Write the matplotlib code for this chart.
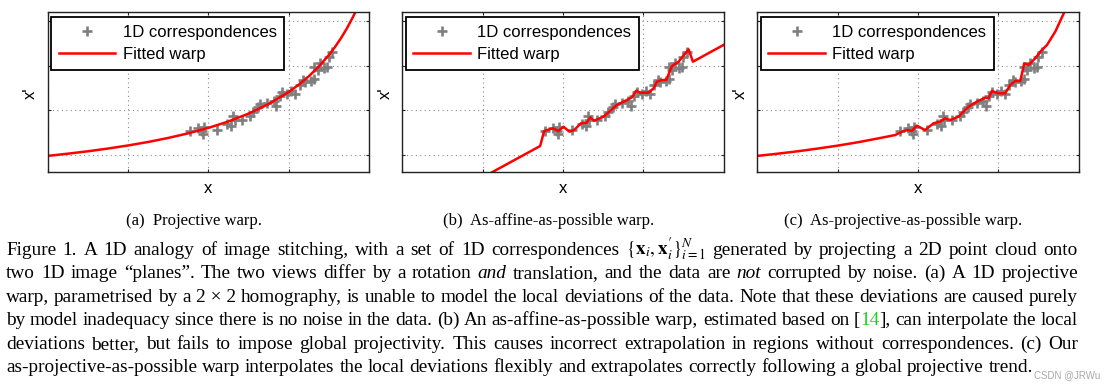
import matplotlib
matplotlib.use('Agg')
import matplotlib.pyplot as plt

# 1D correspondences (same set in all three panels)
pts_x = [1.775, 1.878, 1.920, 1.940, 1.948, 2.107, 2.231, 2.281, 2.306, 2.327, 2.418, 2.522,
         2.555, 2.625, 2.646, 2.730, 2.812, 2.841, 2.887, 2.916, 2.979, 3.029, 3.083, 3.136,
         3.178, 3.207, 3.278, 3.319, 3.319, 3.361, 3.394, 3.444, 3.477, 3.497, 3.539]
pts_y = [1.537, 1.611, 1.537, 1.463, 1.633, 1.559, 1.686, 1.656, 1.880, 1.783, 1.783, 1.880,
         1.955, 2.081, 2.141, 2.156, 2.208, 2.104, 2.327, 2.402, 2.357, 2.432, 2.357, 2.566,
         2.678, 2.626, 2.656, 2.701, 2.976, 2.902, 3.051, 2.954, 2.976, 3.199, 3.311]

# (a) projective warp
warp_a_x = [0, 0.25, 0.5, 0.75, 1.0, 1.25, 1.5, 1.75, 2.0, 2.25, 2.5, 2.75, 3.0, 3.125,
            3.25, 3.375, 3.5, 3.575, 3.65, 3.725, 3.8, 3.85, 3.9]
warp_a_y = [0.98, 1.029, 1.083, 1.144, 1.213, 1.291, 1.381, 1.485, 1.606, 1.750, 1.925,
            2.139, 2.409, 2.572, 2.760, 2.978, 3.235, 3.412, 3.610, 3.833, 4.086, 4.27, 4.48]

# (b) as-affine-as-possible warp
warp_b_x = [1.00, 1.715, 1.765, 1.873, 1.943, 2.005, 2.080, 2.138, 2.222, 2.296, 2.338, 2.387,
            2.503, 2.670, 2.794, 2.857, 2.910, 2.960, 3.064, 3.126, 3.168, 3.230, 3.284, 3.355,
            3.437, 3.562, 3.616, 4.0]
warp_b_y = [0.50, 1.201, 1.537, 1.597, 1.537, 1.634, 1.522, 1.559, 1.709, 1.724, 1.843, 1.768,
            1.857, 2.119, 2.230, 2.290, 2.439, 2.394, 2.394, 2.492, 2.640, 2.678, 2.678, 2.991,
            3.088, 3.364, 3.088, 3.465]

# (c) as-projective-as-possible warp
warp_c_x = [0, 0.25, 0.5, 0.75, 1.0, 1.25, 1.5, 1.715, 1.818, 1.881, 1.922, 1.985, 2.088, 2.192,
            2.275, 2.337, 2.400, 2.503, 2.628, 2.732, 2.836, 2.877, 2.919, 3.001, 3.084, 3.147,
            3.209, 3.272, 3.321, 3.375, 3.458, 3.529, 3.604, 3.707, 3.832, 3.9]
warp_c_y = [0.98, 1.029, 1.083, 1.144, 1.21, 1.285, 1.37, 1.447, 1.537, 1.559, 1.537, 1.656,
            1.559, 1.709, 1.746, 1.821, 1.783, 1.857, 2.081, 2.193, 2.282, 2.267, 2.432, 2.380,
            2.380, 2.566, 2.656, 2.656, 3.051, 3.014, 3.163, 3.327, 3.461, 3.759, 4.244, 4.51]

sub_captions = ['(a)  Projective warp.', '(b)  As-affine-as-possible warp.',
                '(c)  As-projective-as-possible warp.']

IT = {'style': 'italic'}
GREEN = {'color': '#1ed21e'}
caption_lines = [
    ['Figure', '1.', 'A', '1D', 'analogy', 'of', 'image', 'stitching,', 'with', 'a', 'set', 'of',
     '1D', 'correspondences', r'$\{\mathbf{x}_i, \mathbf{x}^{\prime}_i\}_{i=1}^{N}$', 'generated',
     'by', 'projecting', 'a', '2D', 'point', 'cloud', 'onto'],
    ['two', '1D', 'image', '\u201cplanes\u201d.', 'The', 'two', 'views', 'differ', 'by', 'a',
     'rotation', [('and', IT)], 'translation,', 'and', 'the', 'data', 'are', [('not', IT)],
     'corrupted', 'by', 'noise.', '(a)', 'A', '1D', 'projective'],
    ['warp,', 'parametrised', 'by', 'a', '2 \u00d7 2', 'homography,', 'is', 'unable', 'to',
     'model', 'the', 'local', 'deviations', 'of', 'the', 'data.', 'Note', 'that', 'these',
     'deviations', 'are', 'caused', 'purely'],
    ['by', 'model', 'inadequacy', 'since', 'there', 'is', 'no', 'noise', 'in', 'the', 'data.',
     '(b)', 'An', 'as-affine-as-possible', 'warp,', 'estimated', 'based', 'on',
     [('[', {}), ('14', GREEN), ('],', {})], 'can', 'interpolate', 'the', 'local'],
    ['deviations', 'better,', 'but', 'fails', 'to', 'impose', 'global', 'projectivity.', 'This',
     'causes', 'incorrect', 'extrapolation', 'in', 'regions', 'without', 'correspondences.',
     '(c)', 'Our'],
    ['as-projective-as-possible', 'warp', 'interpolates', 'the', 'local', 'deviations',
     'flexibly', 'and', 'extrapolates', 'correctly', 'following', 'a', 'global', 'projective',
     'trend.'],
]

plt.rcParams['font.family'] = 'Liberation Sans'
plt.rcParams['mathtext.fontset'] = 'stix'

W, H = 1109, 388
fig = plt.figure(figsize=(W / 100, H / 100), dpi=100)

panels = [(warp_a_x, warp_a_y), (warp_b_x, warp_b_y), (warp_c_x, warp_c_y)]
lefts = [47.5, 402.3, 757.3]
ax_w, ax_top, ax_bot = 321.5, 11.7, 172.0

for (wx, wy), left, sub in zip(panels, lefts, sub_captions):
    ax = fig.add_axes([left / W, 1 - ax_bot / H, ax_w / W, (ax_bot - ax_top) / H])
    ax.plot(pts_x, pts_y, '+', color='#7f7f7f', ms=6.5, mew=1.9, label='1D correspondences')
    ax.plot(wx, wy, '-', color='red', lw=1.8, label='Fitted warp')
    ax.set_xlim(0, 4)
    ax.set_ylim(0.62, 4.206)
    ax.set_xticks([0, 1, 2, 3, 4])
    ax.set_yticks([1, 2, 3, 4])
    ax.set_xticklabels([])
    ax.set_yticklabels([])
    ax.tick_params(direction='in', length=2.5, width=0.8, top=True, right=True, color='#222222')
    ax.grid(True, color='#8c8c8c', linestyle=(0, (1, 3)), lw=0.8)
    for sp in ax.spines.values():
        sp.set_linewidth(1.0)
        sp.set_color('#222222')
    ax.set_xlabel('x', fontsize=12, va='center')
    ax.xaxis.set_label_coords(0.5, -0.106)
    ax.set_ylabel("x'", fontsize=12, va='center')
    ax.yaxis.set_label_coords(-0.052, 0.49)
    leg = ax.legend(loc='upper left', bbox_to_anchor=(3.5 / ax_w, 1 - 5.6 / (ax_bot - ax_top)),
                    borderaxespad=0, fontsize=12, numpoints=1, handlelength=3.4,
                    handletextpad=0.45, borderpad=0.45, labelspacing=0.45, fancybox=False,
                    framealpha=1, edgecolor='black')
    leg.get_frame().set_linewidth(1.3)
    fig.text((left + ax_w / 2 - 14.5) / W, 1 - 225 / H, sub, ha='center', va='baseline',
             fontsize=12, family='Liberation Serif')

# caption, justified word by word
renderer = fig.canvas.get_renderer()
x_left, x_right = 6.0, 1078.0
cap_size = 13.9


def put_line(words, base_px, justify):
    groups = []
    for w in words:
        pieces = w if isinstance(w, list) else [(w, {})]
        grp = [fig.text(0, 1 - base_px / H, s, fontsize=cap_size, family='Liberation Serif',
                        va='baseline', ha='left', **kw) for s, kw in pieces]
        groups.append(grp)
    widths = [[t.get_window_extent(renderer).width for t in grp] for grp in groups]
    total = sum(sum(ws) for ws in widths)
    if justify:
        gap = (x_right - x_left - total) / (len(groups) - 1)
    else:
        gap = 0.25 * cap_size * 100 / 72
    x = x_left
    for grp, ws in zip(groups, widths):
        for t, w in zip(grp, ws):
            t.set_x(x / W)
            x += w
        x += gap


for i, words in enumerate(caption_lines):
    put_line(words, 255 + 23.4 * i, justify=(i < len(caption_lines) - 1))

fig.text(1034 / W, 1 - 378 / H, 'CSDN @JRWu', fontsize=7, color='#a8a8a8', va='baseline')

fig.savefig('out.png', dpi=100)
